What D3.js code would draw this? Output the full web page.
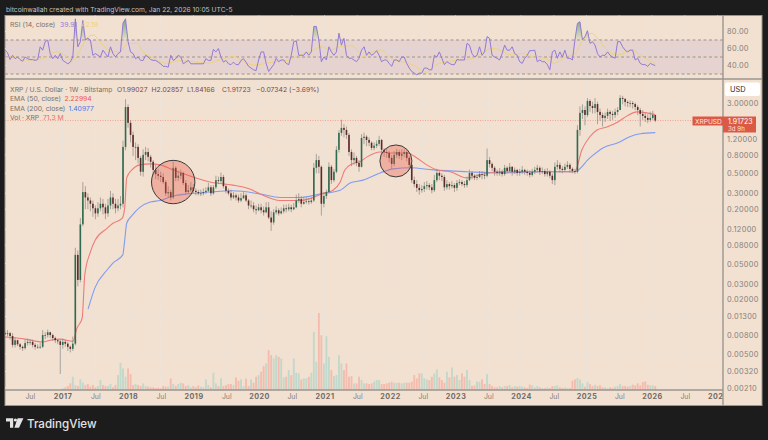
<!DOCTYPE html>
<html>
<head>
<meta charset="utf-8">
<title>XRP / U.S. Dollar</title>
<script src="https://cdn.jsdelivr.net/npm/d3@7"></script>
<style>
  html, body { margin: 0; padding: 0; background: #1c1c1c; }
  svg { display: block; font-family: Inter, "Noto Sans", sans-serif; }
  .tick text { fill: #857f79; }
</style>
</head>
<body>
<svg id="chart" width="768" height="440"></svg>
<script>
// Fortnightly candles, last one is the live 1W bar
const closes = [
  .0085,.0083,.0085,.0079,.0063,.0071,.0064,.006,.0058,.0066,
  .0068,.0068,.0063,.006,.006,.006,.0081,.0081,.0087,.0081,
  .0075,.0071,.0069,.0063,.0068,.0065,.006,.0057,.0065,.0625,
  .033,.136,.31,.27,.25,.23,.205,.18,.205,.23,
  .21,.18,.22,.27,.23,.205,.22,.23,.98,2.71,
  1.81,1.33,.98,.98,.74,.52,.80,.86,.76,.67,
  .545,.49,.47,.455,.40,.30,.31,.27,.575,.445,
  .47,.505,.39,.31,.325,.35,.32,.31,.30,.30,
  .31,.32,.35,.30,.35,.42,.41,.455,.36,.32,
  .30,.27,.285,.27,.25,.265,.285,.25,.22,.22,
  .20,.195,.21,.195,.185,.21,.162,.143,.185,.195,
  .18,.19,.205,.20,.21,.20,.21,.25,.26,.23,
  .24,.245,.24,.25,.575,.70,.59,.23,.28,.31,
  .59,.42,.52,.91,1.40,1.59,1.51,1.33,.86,.70,
  .74,.65,.59,1.23,1.27,1.17,1.09,.955,1.01,1.06,
  1.17,.91,.86,.84,.74,.635,.80,.86,.78,.82,
  .86,.74,.62,.42,.38,.345,.325,.335,.36,.37,
  .35,.325,.42,.505,.47,.455,.35,.38,.36,.37,
  .345,.39,.40,.38,.37,.42,.505,.47,.445,.455,
  .49,.48,.47,.70,.635,.575,.52,.505,.52,.49,
  .575,.53,.59,.52,.545,.505,.52,.545,.52,.505,
  .48,.52,.545,.575,.52,.53,.49,.52,.47,.42,
  .59,.62,.56,.545,.59,.62,.56,.53,.52,1.51,
  2.33,2.51,2.21,3.16,2.78,2.64,2.92,2.39,2.21,2.05,
  2.16,2.39,2.27,2.21,2.39,2.51,3.41,3.33,3.08,3.00,
  3.00,2.92,2.71,2.51,2.27,2.16,2.05,1.95,2.05,2.21,1.91723
];
const highs = [
  .0092,.009,.0092,.0088,.0085,.0076,.0072,.0066,.0062,.0072,
  .0074,.0073,.0072,.0066,.0064,.0066,.0092,.0087,.0093,.0088,
  .0084,.0078,.0073,.0072,.0074,.0072,.0068,.0062,.0078,.075,
  .07,.16,.40,.36,.30,.27,.25,.22,.24,.27,
  .26,.23,.26,.32,.30,.26,.26,.28,1.15,3.3,
  2.9,1.95,1.45,1.1,1.05,.78,.92,.98,.95,.80,
  .70,.62,.56,.52,.50,.42,.36,.33,.68,.60,
  .53,.55,.52,.42,.37,.40,.38,.34,.33,.33,
  .34,.35,.39,.37,.37,.47,.46,.51,.48,.38,
  .34,.33,.31,.30,.29,.30,.31,.30,.26,.25,
  .24,.22,.23,.23,.215,.24,.24,.19,.20,.215,
  .205,.21,.225,.225,.23,.225,.235,.29,.30,.28,
  .27,.27,.265,.27,.65,.82,.78,.61,.31,.33,
  .66,.62,.56,1.0,1.5,1.96,1.75,1.65,1.4,.92,
  .85,.78,.70,1.36,1.41,1.32,1.25,1.13,1.1,1.16,
  1.3,1.2,.95,.93,.88,.80,.88,.93,.91,.92,
  .92,.90,.78,.65,.46,.42,.38,.37,.40,.41,
  .39,.38,.48,.56,.53,.50,.48,.42,.40,.41,
  .39,.42,.43,.42,.41,.46,.55,.53,.49,.49,
  .53,.53,.52,.94,.76,.66,.60,.55,.57,.55,
  .62,.60,.65,.60,.58,.56,.56,.60,.56,.55,
  .54,.56,.59,.62,.60,.58,.56,.57,.54,.50,
  .66,.70,.66,.60,.64,.68,.65,.58,.56,1.7,
  2.75,2.9,2.75,3.4,3.3,3.1,3.4,3.1,2.6,2.35,
  2.35,2.6,2.5,2.45,2.6,2.7,3.66,3.6,3.4,3.2,
  3.2,3.15,3.05,2.85,2.65,2.5,2.35,2.25,2.4,2.45,2.02857
];
const lows = [
  .0078,.0076,.0078,.0072,.0059,.0059,.0061,.0056,.0054,.0056,
  .0062,.0063,.0059,.0056,.0057,.0057,.0058,.0073,.0076,.0075,
  .007,.0066,.0064,.003,.0057,.006,.0054,.0052,.0054,.0062,
  .028,.031,.13,.2,.2,.19,.165,.155,.165,.19,
  .175,.155,.165,.2,.2,.18,.19,.2,.21,.9,
  1.6,1.1,.78,.7,.64,.47,.46,.7,.68,.58,
  .48,.43,.42,.40,.38,.28,.27,.25,.26,.41,
  .41,.43,.37,.29,.295,.31,.3,.285,.285,.28,
  .285,.295,.31,.28,.29,.335,.38,.39,.34,.3,
  .285,.25,.26,.25,.235,.24,.26,.24,.2,.205,
  .185,.175,.19,.18,.17,.18,.155,.115,.135,.175,
  .17,.175,.18,.185,.19,.185,.195,.205,.235,.21,
  .225,.23,.225,.23,.24,.5,.5,.17,.21,.26,
  .3,.38,.40,.5,.85,1.3,1.25,1.2,.78,.6,
  .62,.6,.52,.58,1.05,1.0,1.0,.9,.9,.95,
  1.0,.8,.76,.74,.66,.56,.6,.74,.72,.7,
  .75,.68,.58,.39,.35,.31,.29,.305,.31,.33,
  .325,.3,.31,.4,.42,.41,.32,.33,.33,.34,
  .31,.32,.37,.36,.345,.35,.41,.43,.42,.42,
  .44,.43,.43,.45,.58,.53,.47,.47,.47,.46,
  .47,.5,.51,.47,.49,.47,.47,.49,.48,.47,
  .45,.46,.49,.51,.48,.49,.46,.46,.44,.38,
  .37,.55,.51,.5,.52,.56,.51,.5,.49,.5,
  1.3,2.0,1.7,2.1,2.4,2.3,2.3,1.75,1.9,1.65,
  1.85,2.0,1.9,1.95,2.05,2.2,2.5,2.9,2.75,2.7,
  2.7,2.6,2.5,2.2,1.65,1.95,1.85,1.8,1.85,1.95,1.84166
];
// Volume in millions, same fortnightly steps (aligned on the last bar)
const volumes = [
  2,2,2,2,2,2,2,2,2,2,2,2,2,2,2,2,2,2,2,2,2,2,2,2,
  30,48,72,120,240,90,72,192,132,90,108,60,90,48,72,180,90,72,72,108,48,90,270,492,390,
  240,390,288,90,108,90,72,120,72,60,48,48,36,42,30,72,60,60,210,108,72,108,132,120,72,
  90,48,72,48,84,60,48,192,90,48,312,120,72,210,72,90,108,108,90,228,168,192,72,204,72,192,
  132,240,270,330,432,480,720,630,570,630,600,570,228,240,360,270,570,312,300,192,210,210,240,312,
  1050,510,1392,990,480,972,600,360,252,270,630,480,360,480,240,252,120,120,240,180,120,120,108,120,
  150,180,180,108,108,120,132,150,132,132,132,120,132,132,132,150,270,210,300,300,210,192,180,240,300,372,
  228,180,132,330,228,408,240,270,180,300,240,360,180,72,84,150,150,192,108,288,108,72,48,48,72,48,72,72,90,
  48,72,60,72,60,48,36,96,84,48,72,48,36,36,48,36,72,72,84,48,36,48,36,36,
  168,192,216,190,120,60,144,108,72,96,72,84,48,48,36,48,36,60,72,108,72,72,60,72,96,84,120,84,144,156,96,84,84,71.3
];
const rsi = [
  56,58,55,47,52,48,50,47,45,50,
  48,47,47,46,47,62,58,68,70,54,
  48,52,48,54,46,44,42,44,50,95,
  62,68,93,70,72,70,52,54,52,50,
  58,54,50,62,54,50,54,56,90,95,
  68,56,54,48,50,46,46,52,50,47,
  46,46,44,42,39,39,38,52,46,48,
  52,50,42,44,46,42,42,42,42,42,
  42,48,46,46,59,56,60,50,44,46,
  42,41,44,41,41,46,48,44,39,37,
  35,34,46.5,56,56,42.5,33,37,41,48.5,44.5,46.5,46.5,42.5,41,52,68,69,52,52,52,56,52,56,86,86,70,44.5,50,46.5,
  62,56,52,56,78,64,72,52,48.5,48.5,46.5,44.5,48.5,58,62,52,56,52,54,57.5,52,44.5,46.5,46.5,42.5,39,46.5,46.5,44.5,50,
  50,42.5,37,33,31,29,31,31,37,37,35,35,52,50,56,48.5,41,44.5,42.5,41,41,47,46.5,46.5,46.5,66,64,54,50,52,
  62,52,56,74,72,52,50,48.5,46.5,54,64,58,
  58,62,54,52,44.5,42.5,48.5,52,57.5,57.5,58,44.5,46.5,44.5,44.5,41,35,56,58,48.5,56,50,58,48.5,48.5,46.5,70,89.6,91.5,70,
  74,81,66,68,64,54,50,52,52,56,52,50,48.5,68,68,62,58,56,58,58,46.5,48.5,42.5,41,41,39,42.5,41,39.91
];
// Moving averages, read at the bends of each line
const rsiMaYears = [2016.12,2016.25,2016.40,2016.55,2016.71,2016.91,2017.06,2017.16,2017.27,2017.37,2017.47,2017.57,2017.67,2017.78,2017.88,2018.00,2018.13,2018.23,2018.39,2018.59,2018.79,2019.00,2019.20,2019.40,2019.61,2019.81,2019.95,2020.11,2020.26,2020.46,2020.61,2020.79,2020.95,2021.10,2021.23,2021.38,2021.48,2021.58,2021.74,2021.86,2022.04,2022.19,2022.35,2022.55,2022.70,2022.86,2023.06,2023.26,2023.57,2023.86,2024.02,2024.17,2024.37,2024.50,2024.68,2024.83,2024.93,2025.08,2025.19,2025.34,2025.49,2025.69,2025.85,2026.05];
const rsiMaValues = [48.4,50.4,46.5,46.5,48.4,56.3,50.4,46.5,58.2,72,75.9,68,60.2,56.3,56.3,66,66,56.3,48.4,42.6,45.7,44.5,42.6,46.5,50.4,42.6,40.6,42.6,44.5,46.5,52.4,56.3,62.2,58.2,62.2,63.3,60.2,50.4,56.3,58.2,47.3,44.5,40.6,32,40.6,44.5,46.5,48.4,60.2,52.4,54.3,50.4,48.4,42.6,50.4,54.3,68,77.8,70,56.3,52.4,59,50.4,42.19];
const ema50Years = [2016.12,2016.43,2016.70,2016.81,2016.96,2017.16,2017.22,2017.30,2017.34,2017.42,2017.50,2017.68,2017.77,2017.91,2017.95,2017.98,2018.06,2018.18,2018.34,2018.49,2018.69,2018.99,2019.25,2019.60,2019.86,2020.02,2020.32,2020.63,2020.83,2020.98,2021.13,2021.24,2021.31,2021.42,2021.54,2021.65,2021.85,2022.00,2022.26,2022.41,2022.56,2022.72,2022.92,2023.18,2023.37,2023.68,2024.29,2024.82,2024.93,2025.05,2025.16,2025.31,2025.48,2025.62,2025.77,2025.92,2026.05];
const ema50Values = [.0077,.0073,.0068,.0071,.0073,.0069,.0096,.0125,.0374,.0655,.0912,.123,.14,.158,.21,.445,.545,.62,.635,.62,.545,.455,.40,.37,.335,.295,.25,.25,.27,.30,.325,.40,.545,.635,.67,.76,.86,.84,.84,.74,.62,.545,.52,.445,.48,.52,.52,.52,.91,1.27,1.51,1.63,1.85,2.16,2.39,2.33,2.22994];
const ema200Years = [2017.39,2017.50,2017.68,2017.77,2017.92,2017.95,2017.98,2018.06,2018.18,2018.34,2018.49,2018.69,2018.90,2019.25,2019.60,2020.02,2020.32,2020.63,2020.93,2021.24,2021.39,2021.59,2021.85,2022.05,2022.31,2022.66,2023.18,2023.68,2024.29,2024.82,2025.05,2025.25,2025.48,2025.66,2025.82,2026.05];
const ema200Values = [.0157,.0275,.0425,.0507,.0625,.0912,.14,.17,.21,.24,.25,.28,.295,.31,.32,.295,.27,.27,.295,.325,.39,.42,.505,.56,.575,.545,.52,.505,.52,.52,.74,.955,1.09,1.27,1.37,1.40977];
// Hand drawn circles on the chart: centre in chart units
const circleYears = [2018.69, 2022.09];
const circlePrices = [0.40, 0.685];
const circleSizes = [21.7, 16];

const timeTicks = [2016.5,2017,2017.5,2018,2018.5,2019,2019.5,2020,2020.5,2021,2021.5,2022,2022.5,2023,2023.5,2024,2024.5,2025,2025.5,2026,2026.5,2027];
const priceTicks = [3,1.2,0.8,0.5,0.3,0.2,0.12,0.08,0.05,0.03,0.02,0.013,0.008,0.005,0.0032,0.0021];
const rsiTicks = [80,60,40];
const rsiLevels = [70,50,30];

const LAST_YEAR = 2026.05;
const STEP = 14 / 365.25;
const BG = '#f2e1d1', GRID = '#ebe3da', LINE = '#9b958f';
const RED = '#ef7a78', BLUE = '#7f9cf2', PURPLE = '#9379d4', YELLOW = '#edd27a', MAROON = '#7a4a4a';

const pane = { left: 5, right: 723, outer: 762, top: 15.5, rsiBottom: 79, mainBottom: 390, bottom: 405.5 };

const svg = d3.select('#chart');
const defs = svg.append('defs');

const x = d3.scaleLinear().domain([2017, 2026]).range([62.5, 652]);
const y = d3.scaleLog().domain([3, 0.0021]).range([103, 388]);
const yRsi = d3.scaleLinear().domain([30, 70]).range([74, 40]);
const maxVol = d3.max(volumes);
const yVol = d3.scaleLinear().domain([0, maxVol]).range([390, 390 - 77]);

// series are laid out backwards from the last bar
const yearAt = (i, len) => LAST_YEAR - (len - 1 - i) * STEP;
const candles = closes.map((c, i) => ({
  year: yearAt(i, closes.length), close: c, open: i ? closes[i - 1] : 0.0088, high: highs[i], low: lows[i]
}));

function addClip(id, x0, y0, w, h) {
  defs.append('clipPath').attr('id', id).append('rect').attr('x', x0).attr('y', y0).attr('width', w).attr('height', h);
}
addClip('clip-rsi', pane.left, pane.top, pane.right - pane.left, pane.rsiBottom - pane.top);
addClip('clip-main', pane.left, pane.rsiBottom, pane.right - pane.left, pane.mainBottom - pane.rsiBottom);
addClip('clip-time', pane.left, pane.mainBottom, pane.right - pane.left, pane.bottom - pane.mainBottom);
addClip('clip-over', pane.left, 16, pane.right - pane.left, yRsi(70) - 16);

const grad = defs.append('linearGradient').attr('id', 'rsi-over')
  .attr('gradientUnits', 'userSpaceOnUse').attr('x1', 0).attr('x2', 0).attr('y1', 18).attr('y2', 40);
grad.append('stop').attr('offset', 0).attr('stop-color', '#3f9a55').attr('stop-opacity', 0.75);
grad.append('stop').attr('offset', 1).attr('stop-color', '#3f9a55').attr('stop-opacity', 0.05);

// Panel
svg.append('rect').attr('x', pane.left).attr('y', pane.top)
  .attr('width', pane.outer - pane.left).attr('height', pane.bottom - pane.top)
  .attr('fill', BG).attr('stroke', LINE).attr('stroke-width', 1);

// Grid
const gridX = timeTicks.map(x).filter(v => v < pane.right);
svg.append('g').selectAll('line').data(gridX).join('line')
  .attr('x1', d => d).attr('x2', d => d).attr('y1', pane.top).attr('y2', pane.mainBottom)
  .attr('stroke', GRID).attr('stroke-width', 1);
svg.append('g').selectAll('line').data(priceTicks.map(y).concat(rsiTicks.map(yRsi))).join('line')
  .attr('x1', pane.left).attr('x2', pane.right).attr('y1', d => d).attr('y2', d => d)
  .attr('stroke', GRID).attr('stroke-width', 1);

// RSI pane
const rsiG = svg.append('g').attr('clip-path', 'url(#clip-rsi)');
rsiG.append('rect').attr('x', pane.left).attr('width', pane.right - pane.left)
  .attr('y', yRsi(70)).attr('height', yRsi(30) - yRsi(70))
  .attr('fill', '#7e57c2').attr('fill-opacity', 0.1);
rsiG.selectAll('line.level').data(rsiLevels).join('line').attr('class', 'level')
  .attr('x1', pane.left).attr('x2', pane.right).attr('y1', yRsi).attr('y2', yRsi)
  .attr('stroke', '#9a948f').attr('stroke-dasharray', '3,2.5');

const rsiX = (d, i) => x(yearAt(i, rsi.length));
rsiG.append('g').attr('clip-path', 'url(#clip-over)').append('path')
  .datum(rsi)
  .attr('d', d3.area().x(rsiX).y0(yRsi(70)).y1(d => yRsi(d)))
  .attr('fill', 'url(#rsi-over)');
rsiG.append('path')
  .attr('d', d3.line().curve(d3.curveMonotoneX)(rsiMaYears.map((t, i) => [x(t), yRsi(rsiMaValues[i])])))
  .attr('fill', 'none').attr('stroke', YELLOW).attr('stroke-width', 1);
rsiG.append('path').datum(rsi)
  .attr('d', d3.line().x(rsiX).y(d => yRsi(d)))
  .attr('fill', 'none').attr('stroke', PURPLE).attr('stroke-width', 1);

// Main pane
const mainG = svg.append('g').attr('clip-path', 'url(#clip-main)');

const volOffset = closes.length - volumes.length;
mainG.append('g').selectAll('rect').data(volumes).join('rect')
  .attr('x', (d, i) => x(yearAt(i, volumes.length)) - 0.95)
  .attr('width', 1.9)
  .attr('y', d => yVol(d))
  .attr('height', d => 390 - yVol(d))
  .attr('fill', (d, i) => {
    const c = candles[i + volOffset];
    return c && c.close >= c.open ? '#c2d8ca' : '#f3bcae';
  });

// last price line
mainG.append('line').attr('x1', pane.left).attr('x2', pane.right)
  .attr('y1', y(closes[closes.length - 1])).attr('y2', y(closes[closes.length - 1]))
  .attr('stroke', '#e8705f').attr('stroke-opacity', 0.7).attr('stroke-width', 0.8).attr('stroke-dasharray', '1,1.5');

const maLine = d3.line().curve(d3.curveMonotoneX);
mainG.append('path')
  .attr('d', maLine(ema200Years.map((t, i) => [x(t), y(ema200Values[i])])))
  .attr('fill', 'none').attr('stroke', BLUE).attr('stroke-width', 1.1);
mainG.append('path')
  .attr('d', maLine(ema50Years.map((t, i) => [x(t), y(ema50Values[i])])))
  .attr('fill', 'none').attr('stroke', RED).attr('stroke-width', 1.1);

const candleG = mainG.append('g').selectAll('g').data(candles).join('g');
candleG.append('line')
  .attr('x1', d => x(d.year)).attr('x2', d => x(d.year))
  .attr('y1', d => y(d.high)).attr('y2', d => y(d.low))
  .attr('stroke', '#8d867f').attr('stroke-opacity', 0.7).attr('stroke-width', 1);
candleG.append('rect')
  .attr('x', d => x(d.year) - 0.8).attr('width', 1.6)
  .attr('y', d => y(Math.max(d.open, d.close)))
  .attr('height', d => Math.max(0.8, Math.abs(y(d.open) - y(d.close))))
  .attr('fill', d => d.close >= d.open ? '#2f6b50' : '#5c2a2a');

mainG.append('g').selectAll('circle').data(circleYears).join('circle')
  .attr('cx', d => x(d))
  .attr('cy', (d, i) => y(circlePrices[i]))
  .attr('r', (d, i) => circleSizes[i])
  .attr('fill', '#e8584c').attr('fill-opacity', 0.36)
  .attr('stroke', '#3a3a3a').attr('stroke-width', 1);

// Frame lines
const frame = [
  [pane.left, pane.rsiBottom, pane.outer, pane.rsiBottom],
  [pane.left, pane.mainBottom, pane.right, pane.mainBottom],
  [pane.right, pane.top, pane.right, pane.bottom]
];
svg.append('g').selectAll('line').data(frame).join('line')
  .attr('x1', d => d[0]).attr('y1', d => d[1]).attr('x2', d => d[2]).attr('y2', d => d[3])
  .attr('stroke', LINE).attr('stroke-width', 1.4);

// Axes
const priceAxis = d3.axisRight(y).tickValues(priceTicks).tickFormat(d3.format('.5f')).tickSize(0).tickPadding(4);
const pg = svg.append('g').attr('transform', `translate(${pane.right},0)`).call(priceAxis);
pg.select('.domain').remove();
pg.selectAll('text').attr('font-size', 7.4).attr('font-family', 'Inter').style('letter-spacing', '0.3px');

const rsiAxis = d3.axisRight(yRsi).tickValues(rsiTicks).tickFormat(d3.format('.2f')).tickSize(0).tickPadding(4);
const rg = svg.append('g').attr('transform', `translate(${pane.right},0)`).call(rsiAxis);
rg.select('.domain').remove();
rg.selectAll('text').attr('font-size', 7.4).attr('font-family', 'Inter').style('letter-spacing', '0.3px');

const timeAxis = d3.axisBottom(x).tickValues(timeTicks)
  .tickFormat(d => Number.isInteger(d) ? String(d) : 'Jul').tickSize(0).tickPadding(4);
const tg = svg.append('g').attr('clip-path', 'url(#clip-time)').append('g')
  .attr('transform', `translate(0,${pane.mainBottom})`).call(timeAxis);
tg.select('.domain').remove();
tg.selectAll('text')
  .attr('font-size', d => Number.isInteger(d) ? 7.2 : 6.9)
  .attr('font-family', 'Inter')
  .attr('font-weight', d => Number.isInteger(d) ? 700 : 400)
  .style('letter-spacing', d => Number.isInteger(d) ? '0.5px' : '0')
  .style('fill', d => Number.isInteger(d) ? '#6f6a65' : '#857f79');

// Texts
function label(px, py, str, color, size, extra) {
  const t = svg.append('text').attr('x', px).attr('y', py).text(str)
    .attr('fill', color).attr('font-size', size || 6.8);
  if (extra) extra(t);
  return t;
}
label(6, 11.5, 'bitcoinwallah created with TradingView.com, Jan 22, 2026 10:05 UTC-5', '#c2c2c2', 6.7);

const GREY = '#77726e';
label(10, 26.5, 'RSI (14, close)', GREY);
label(60, 26.5, '39.91', PURPLE);
label(81, 26.5, '42.19', YELLOW);

label(10, 91.5, 'XRP / U.S. Dollar · 1W · Bitstamp', GREY);
label(117, 91.5, 'O1.99027', MAROON);
label(151.5, 91.5, 'H2.02857', MAROON);
label(187, 91.5, 'L1.84166', MAROON);
label(222, 91.5, 'C1.91723', MAROON);
label(256, 91.5, '−0.07342 (−3.69%)', MAROON);
label(10, 101, 'EMA (50, close)', GREY);
label(64.5, 101, '2.22994', '#ee5555');
label(10, 110.5, 'EMA (200, close)', GREY);
label(68.5, 110.5, '1.40977', '#4a78e8');
label(10, 120, 'Vol · XRP', GREY);
label(43, 120, '71.3 M', '#ee6b6b');

// Boxes on the price scale
svg.append('rect').attr('x', 725).attr('y', 82.5).attr('width', 35).attr('height', 13.5).attr('rx', 2).attr('fill', '#fff');
label(730, 92, 'USD', '#2a2a2a', 7.4);
svg.append('rect').attr('x', 692.5).attr('y', 116.5).attr('width', 30.5).attr('height', 9).attr('fill', '#db5a45');
svg.append('rect').attr('x', 723).attr('y', 116.5).attr('width', 33).attr('height', 16).attr('fill', '#db5a45');
label(695, 123.6, 'XRPUSD', '#fbe9e2', 6.6);
label(728, 123.6, '1.91723', '#fff', 7);
label(728, 131, '3d 9h', '#fbe0d8', 6.2);

// TradingView mark
svg.append('path')
  .attr('d', 'M6 418.3H13.2V427.7H10V421.5H6Z M17.6 418.3H23.4L19 427.7H14.4Z')
  .attr('fill', '#e4e4e4');
svg.append('circle').attr('cx', 15.4).attr('cy', 420).attr('r', 1.6).attr('fill', '#e4e4e4');
label(27, 427.5, 'TradingView', '#e4e4e4', 11.6, t => t.attr('font-weight', 500));
</script>
</body>
</html>
